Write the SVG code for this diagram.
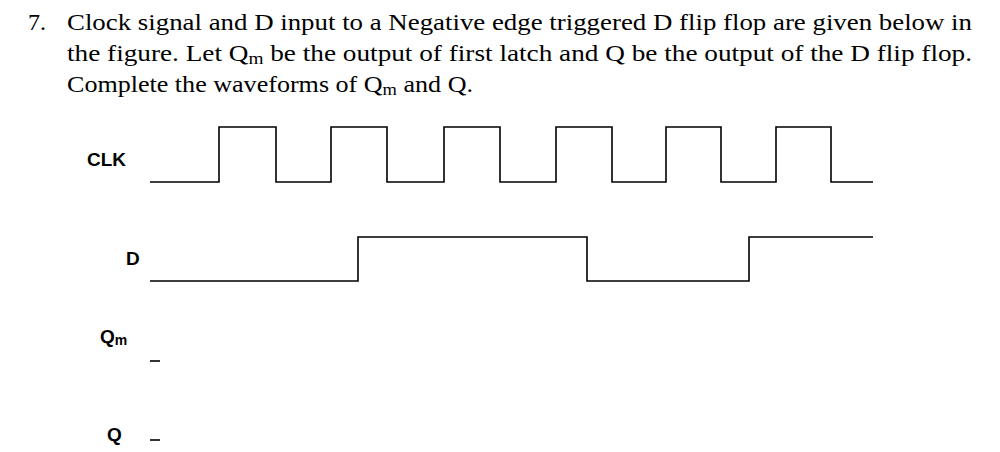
<svg xmlns="http://www.w3.org/2000/svg" width="1000" height="452" viewBox="0 0 1000 452">
<style>
.t{font-family:"Liberation Serif",serif;font-size:24px;fill:#000}
.l{font-family:"Liberation Sans",sans-serif;font-size:19px;font-weight:bold;fill:#000}
.w{fill:none;stroke:#000;stroke-width:1.6}
</style>
<rect width="1000" height="452" fill="#fff"/>
<g id="question">
<text class="t" x="28" y="30">7.</text>
<text class="t" x="67" y="30" textLength="905" lengthAdjust="spacingAndGlyphs">Clock signal and D input to a Negative edge triggered D flip flop are given below in</text>
<text class="t" x="67" y="61" textLength="905" lengthAdjust="spacingAndGlyphs">the figure. Let Q<tspan font-size="17" dy="3">m</tspan><tspan dy="-3"> be the output of first latch and Q be the output of the D flip flop.</tspan></text>
<text class="t" x="67" y="92" textLength="406" lengthAdjust="spacingAndGlyphs">Complete the waveforms of Q<tspan font-size="17" dy="3">m</tspan><tspan dy="-3"> and Q.</tspan></text>
</g>
<g id="clk">
<text class="l" x="87" y="166">CLK</text>
<path class="w" d="M150,182H219V127H276V182H331V127H387V182H444V127H500V182H556V127H612V182H666V127H721V182H776V127H831V182H873"/>
</g>
<g id="d">
<text class="l" x="126" y="265">D</text>
<path class="w" d="M150,281H358V237H587V281H749V237H873"/>
</g>
<g id="qm">
<text class="l" x="100" y="343">Q<tspan font-size="14" dy="2">m</tspan></text>
<path class="w" d="M150,361H160"/>
</g>
<g id="q">
<text class="l" x="107" y="441">Q</text>
<path class="w" d="M150,440H160"/>
</g>
</svg>
